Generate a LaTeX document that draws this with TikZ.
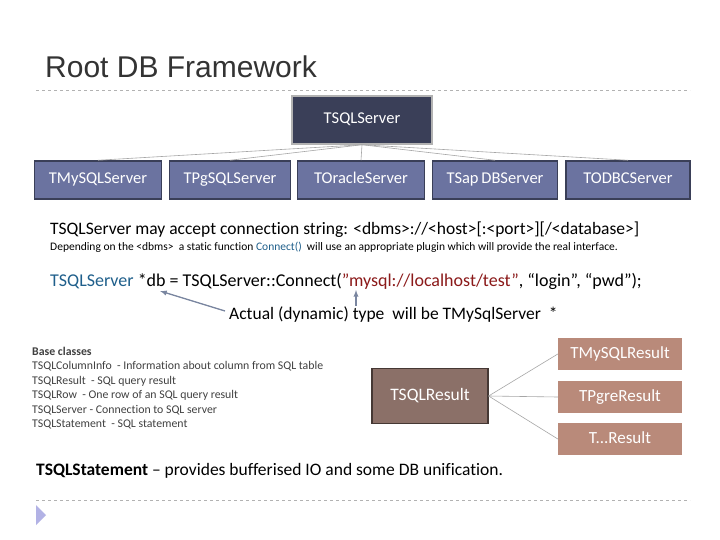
\documentclass[tikz,border=0pt]{standalone}
\usepackage{fontspec}
\setmainfont[Ligatures=NoCommon]{Carlito}
\newfontfamily\titlefont{Liberation Sans}
\definecolor{dk}{HTML}{3A3F58}
\definecolor{md}{HTML}{6B73A0}
\definecolor{rb}{HTML}{8B7068}
\definecolor{rl}{HTML}{B98A7A}
\definecolor{teal}{HTML}{1F5F8B}
\definecolor{dred}{HTML}{8B1A1A}
\definecolor{ac}{HTML}{7A86A0}
\begin{document}
\begin{tikzpicture}[x=1pt,y=-1pt,
  top/.style={draw=gray!60,line width=1.5pt,fill=dk,text=white,text height=11pt,text depth=3pt,font=\fontsize{16.5}{18}\selectfont},
  srv/.style={draw=dk,line width=1.5pt,fill=md,text=white,text height=11pt,text depth=3pt,font=\fontsize{16.5}{18}\selectfont},
  res/.style={draw=rb!50!black,line width=1.2pt,fill=rb,text=white,text height=12pt,text depth=3pt,font=\fontsize{17.5}{20}\selectfont},
  rsub/.style={fill=rl,text=white,text height=12pt,text depth=3pt,font=\fontsize{17}{20}\selectfont},
  conn/.style={draw=gray!70,line width=0.6pt},
  arr/.style={draw=ac,line width=1.3pt,-latex}]
\useasboundingbox (0,0) rectangle (720,540);
\fill[white] (0,0) rectangle (720,540);
\node[anchor=base west,inner sep=0,text=black!80,font=\titlefont\fontsize{30}{32}\selectfont] (title) at (45,78) {Root DB Framework};
\draw[gray!60,dashed,line width=0.6pt] (36,90) -- (690,90);
\draw[gray!60,dashed,line width=0.6pt] (36,500) -- (690,500);
\fill[gray!50!blue!40] (36,505) -- (46,515) -- (36,525) -- cycle;
\node[top,minimum width=140,minimum height=48] (ts) at (362,120) {TSQLServer};
\foreach \n/\t/\x/\w in {a/TMySQLServer/98/127, b/TPgSQLServer/230/121, c/TOracleServer/361/127, d/TSap\,DBServer/495/125, e/TODBCServer/628/124}{
  \node[srv,minimum width=\w,minimum height=38] (\n) at (\x,180) {\t};
  \draw[conn] (ts.south) -- (\n.north);
}
\node[anchor=base west,inner sep=0,font=\fontsize{17.5}{20}\selectfont] (l1) at (50,235) {TSQLServer may accept connection string: <dbms>://<host>[:<port>][/<database>]};
\node[anchor=base west,inner sep=0,font=\fontsize{11.5}{13}\selectfont] (l2) at (50,251) {Depending on the <dbms>\ \ a static function \textcolor{teal}{Connect()}\ \ will use an appropriate plugin which will provide the real interface.};
\node[anchor=base west,inner sep=0,font=\fontsize{18}{20}\selectfont] (code) at (50,286) {\textcolor{teal}{TSQLServer} *db = TSQLServer::Connect(\textcolor{dred}{\char34 mysql://localhost/test\char34}, “login\char34, “pwd\char34);};
\node[anchor=base west,inner sep=0,font=\fontsize{17.5}{20}\selectfont] (act) at (229,319) {Actual (dynamic) type\ \ will be TMySqlServer\ \ *};
\coordinate (t1) at (356,290);
\coordinate (s1) at (356,306);
\coordinate (t2) at (160,291);
\coordinate (s2) at (225,311);
\draw[arr] (s1) -- (t1);
\draw[arr] (s2) -- (t2);
\node[anchor=north west,inner sep=0,align=left,text=black!75,font=\fontsize{11.8}{14.4}\selectfont] (base) at (32,347) {\textbf{Base classes}\\TSQLColumnInfo\ \ - Information about column from SQL table\\TSQLResult\ \ - SQL query result\\TSQLRow\ \ - One row of an SQL query result\\TSQLServer - Connection to SQL server\\TSQLStatement\ \ - SQL statement};
\node[res,minimum width=116,minimum height=55] (r) at (430,396) {TSQLResult};
\node[rsub,minimum width=124,minimum height=32] (r1) at (620,354) {TMySQLResult};
\node[rsub,minimum width=124,minimum height=32] (r2) at (620,397) {TPgreResult};
\node[rsub,minimum width=124,minimum height=32] (r3) at (620,439) {T...Result};
\foreach \n in {r1,r2,r3} \draw[conn] (r.east) -- (\n.west);
\node[anchor=base west,inner sep=0,font=\fontsize{17.5}{20}\selectfont] (st) at (36,475) {\textbf{TSQLStatement} – provides bufferised IO and some DB unification.};
\end{tikzpicture}
\end{document}
